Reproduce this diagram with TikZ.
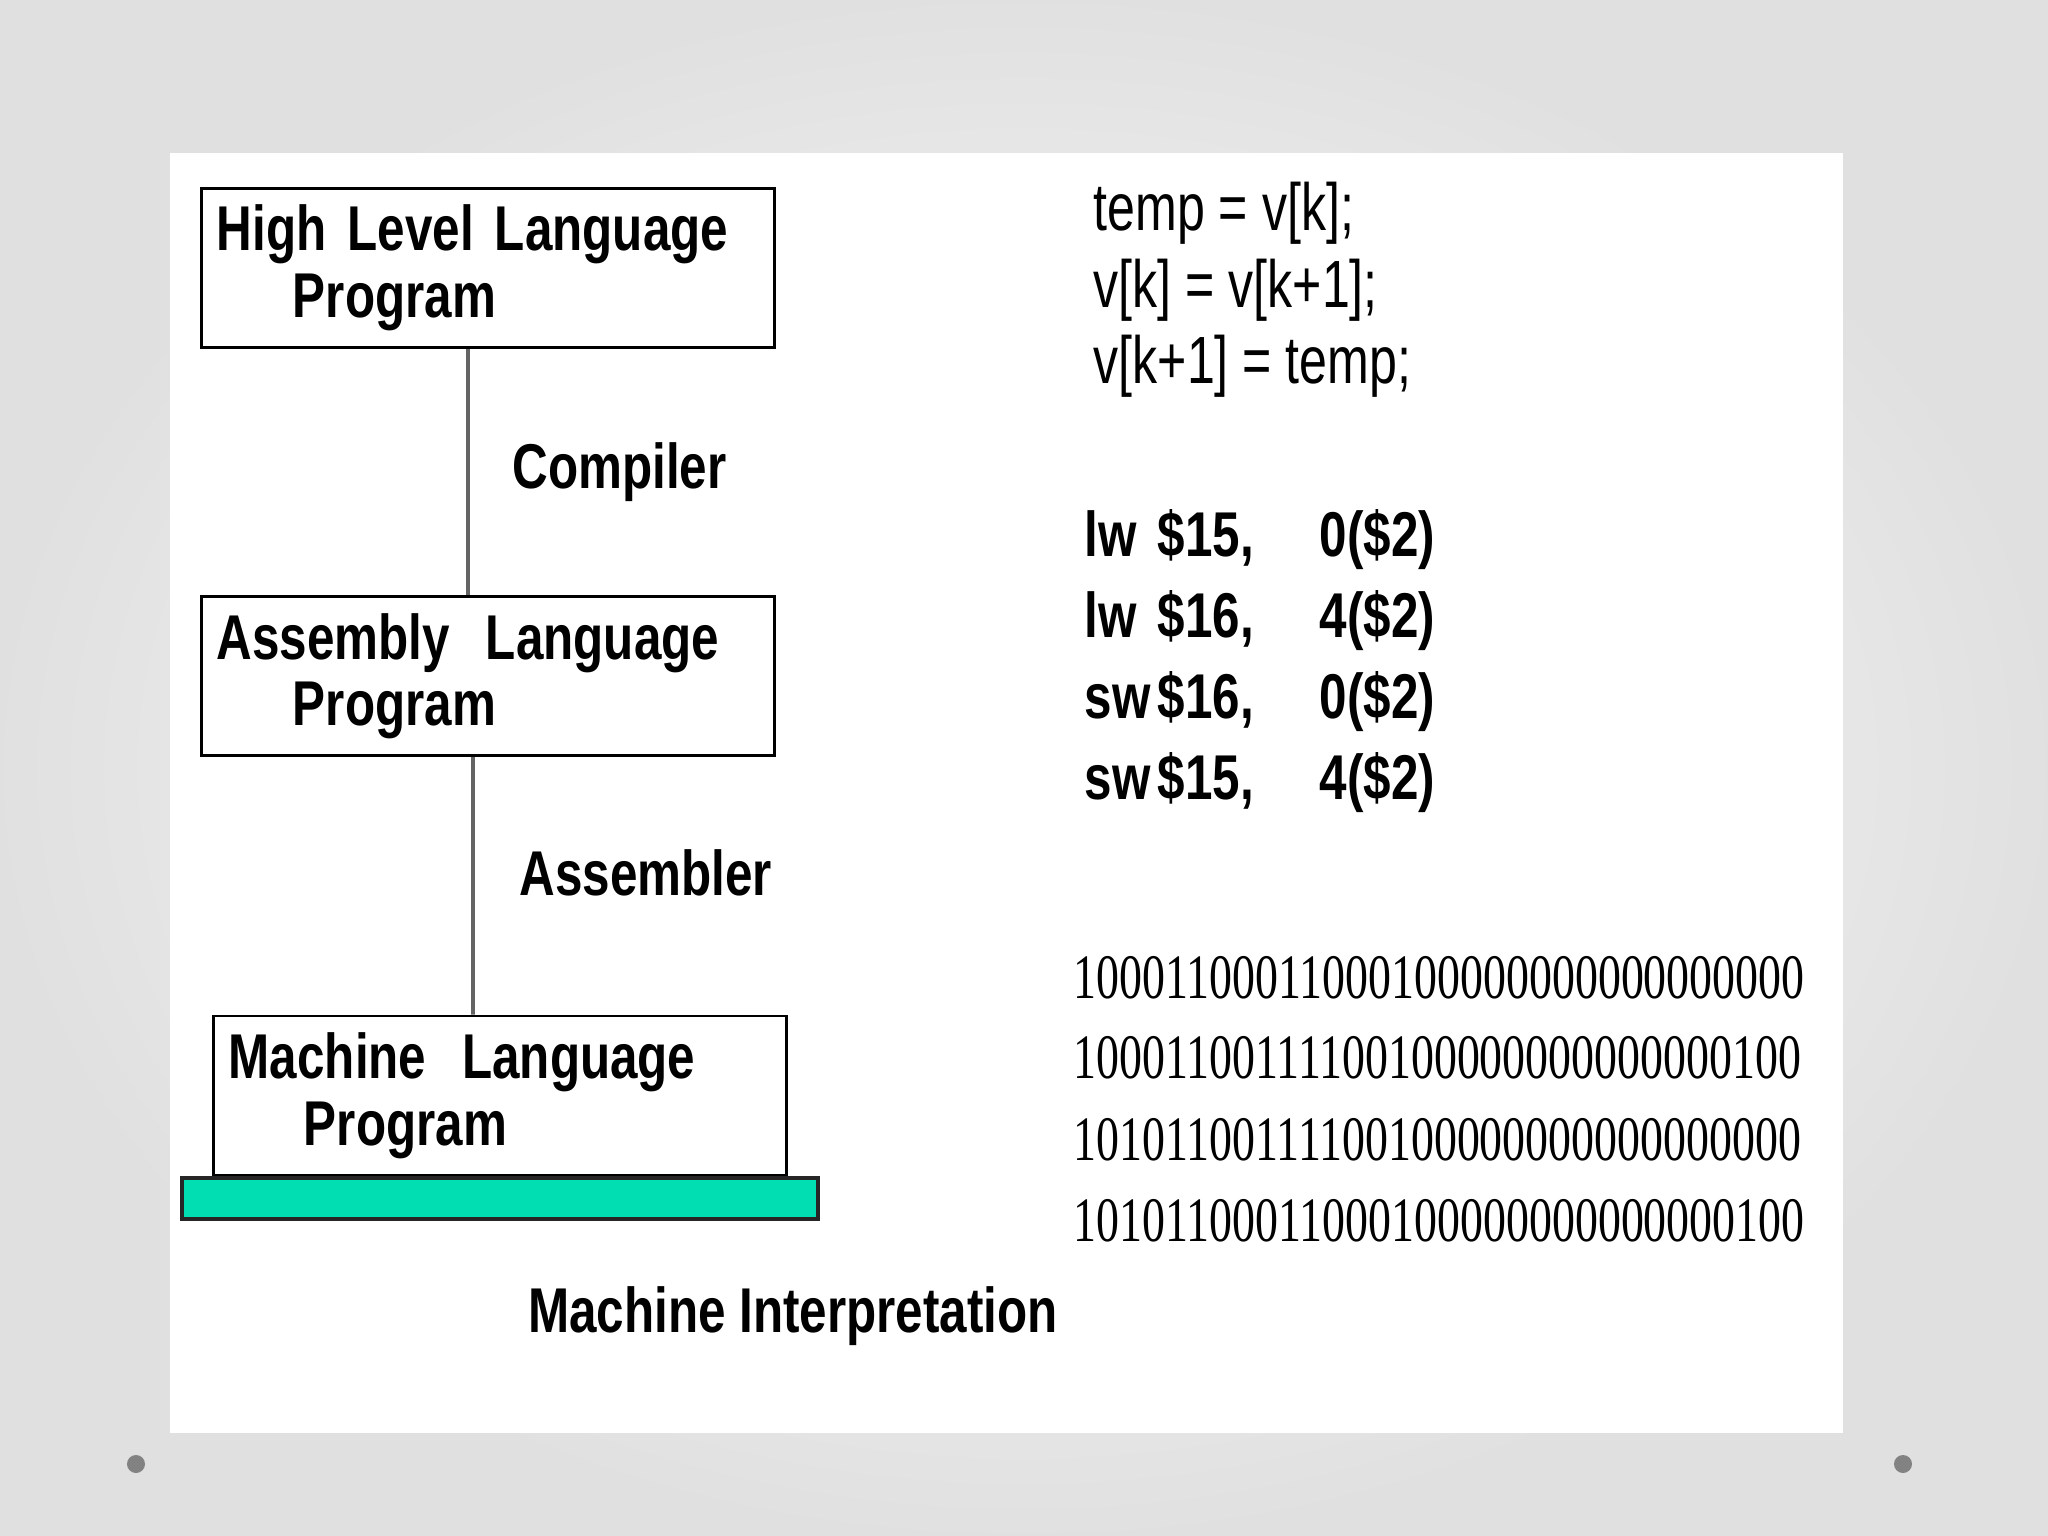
\documentclass[tikz,border=0pt]{standalone}
\usepackage{fontspec}
\newfontfamily\boxfont[FakeStretch=0.78]{Liberation Sans}
\newfontfamily\codefont[FakeStretch=0.75]{Liberation Sans}
\newfontfamily\bitfont[FakeStretch=0.725]{Liberation Serif}
\usetikzlibrary{shapes.geometric, arrows}
\definecolor{turq}{RGB}{0,222,178}
\definecolor{dotgray}{RGB}{130,130,130}
\definecolor{linkgray}{RGB}{100,100,100}
\newcommand{\asmrow}[3]{\makebox[0.73cm][l]{#1}\makebox[1.62cm][l]{#2}#3}
\tikzstyle{langbox} = [rectangle, text width=5.42cm, minimum height=1.59cm, inner xsep=0.15cm, align=left, draw=black, thick, fill=white, font=\boxfont\bfseries\fontsize{18}{19}\selectfont]
\tikzstyle{basebar} = [rectangle, minimum width=6.36cm, minimum height=0.41cm, draw=black!85, line width=1pt, fill=turq]
\tikzstyle{stage} = [font=\boxfont\bfseries\fontsize{18}{19}\selectfont]
\tikzstyle{link} = [line width=1.1pt, draw=linkgray]
\tikzstyle{srcline} = [anchor=base west, inner sep=0pt, font=\codefont\fontsize{19}{21}\selectfont]
\tikzstyle{asmline} = [anchor=base west, inner sep=0pt, font=\boxfont\bfseries\fontsize{18}{19}\selectfont]
\tikzstyle{bitline} = [anchor=base west, inner sep=0pt, font=\bitfont\fontsize{18}{19}\selectfont]

\begin{document}
\begin{tikzpicture}[x=0.01cm, y=-0.01cm, node distance=4.08cm]
   \useasboundingbox (0,0) rectangle (2048,1536);
   \shade [inner color=white, outer color=black!12] (0,0) rectangle (2048,1536);
   \fill [white] (170,153) rectangle (1843,1433);
   \fill [dotgray] (136,1464) circle (0.09cm);
   \fill [dotgray] (1903,1464) circle (0.09cm);

   \node (hll) [langbox] at (488,268) {High Level Language\\\hspace*{0.76cm}Program};
   \node (asm) [langbox, below of=hll] {Assembly\ \ \kern-0.1em Language\\\hspace*{0.76cm}Program};
   \node (mach) [langbox, below of=asm, xshift=0.12cm, yshift=-0.11cm] {Machine\ \ \kern-0.1em Language\\\hspace*{0.75cm}Program};
   \node (bar) [basebar, anchor=north] at (mach.south) {};
   \node (interp) [stage] at (793,1316) {Machine Interpretation};

   \draw [link] ([xshift=-0.2cm]hll.south) -- node[stage, anchor=west, xshift=0.31cm] {Compiler} ([xshift=-0.2cm]asm.north);
   \draw [link] ([xshift=-0.15cm]asm.south) -- node[stage, anchor=west, xshift=0.33cm, yshift=0.13cm] {Assembler} ([xshift=-0.27cm]mach.north);

   % source
   \node (src1) [srcline] at (1093,230) {temp = v[k];};
   \node (src2) [srcline] at (1093,307) {v[k] = v[k+1];};
   \node (src3) [srcline] at (1093,383) {v[k+1] = temp;};

   % assembly
   \node (ins1) [asmline] at (1084,556) {\asmrow{lw}{\$15,}{0(\$2)}};
   \node (ins2) [asmline] at (1084,637) {\asmrow{lw}{\$16,}{4(\$2)}};
   \node (ins3) [asmline] at (1084,718) {\asmrow{sw}{\$16,}{0(\$2)}};
   \node (ins4) [asmline] at (1084,799) {\asmrow{sw}{\$15,}{4(\$2)}};

   % machine code
   \node (bin1) [bitline] at (1073,998) {10001100011000100000000000000000};
   \node (bin2) [bitline] at (1073,1078) {10001100111100100000000000000100};
   \node (bin3) [bitline] at (1073,1160) {10101100111100100000000000000000};
   \node (bin4) [bitline] at (1073,1241) {10101100011000100000000000000100};
\end{tikzpicture}
\end{document}
